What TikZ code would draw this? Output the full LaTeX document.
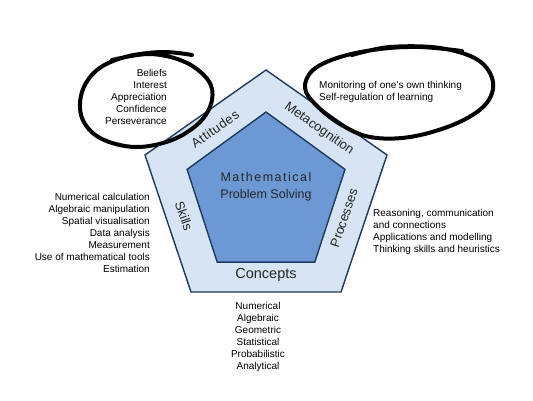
\documentclass[tikz,border=0pt]{standalone}
\usepackage{fontspec}
\setmainfont{Liberation Sans}
\definecolor{navy}{HTML}{1F3A5F}
\definecolor{outerblue}{HTML}{D6E4F4}
\definecolor{innerblue}{HTML}{6C99D4}
\definecolor{labelgray}{HTML}{262626}
\begin{document}
\begin{tikzpicture}[x=1pt,y=-1pt,
  pentout/.style={draw=navy, line width=1.4pt, fill=outerblue, line join=miter},
  pentin/.style={draw=navy, line width=1.4pt, fill=innerblue, line join=miter},
  listtext/.style={font=\fontsize{10}{12}\selectfont, inner sep=0pt, text=black},
  bandlabel/.style={font=\fontsize{13}{15}\selectfont, text=labelgray, inner sep=0pt},
  circled/.style={line width=4pt, line cap=round, line join=round, draw=black}
]
\useasboundingbox (0,0) rectangle (533,400);
% outer pentagon
\coordinate (O1) at (266,70);
\coordinate (O2) at (387,155);
\coordinate (O3) at (341,292);
\coordinate (O4) at (191,292);
\coordinate (O5) at (145,155);
\draw[pentout] (O1)--(O2)--(O3)--(O4)--(O5)--cycle;
% inner pentagon
\coordinate (I1) at (266,112);
\coordinate (I2) at (345,169.4);
\coordinate (I3) at (314.8,262.1);
\coordinate (I4) at (217.2,262.1);
\coordinate (I5) at (187.1,169.4);
\draw[pentin] (I1)--(I2)--(I3)--(I4)--(I5)--cycle;

\node[font=\fontsize{12.5}{17}\selectfont, text=labelgray, align=center, inner sep=0pt] (mps) at (266,187) {\addfontfeatures{LetterSpace=12}Mathematical\\Problem Solving};
\node[font=\fontsize{14.5}{16}\selectfont, text=labelgray, inner sep=0pt] (concepts) at (266,275) {Concepts};
\node[bandlabel, rotate=35] (att) at (215,129) {\addfontfeatures{LetterSpace=4}Attitudes};
\node[bandlabel, rotate=-35] (meta) at (319,129) {Metacognition};
\node[bandlabel, rotate=-71] (skills) at (184,216) {Skills};
\node[bandlabel, rotate=71] (proc) at (344,218) {Processes};

% lists
\node[listtext, align=right, anchor=north east] (attlist) at (167,69.3) {Beliefs\\Interest\\Appreciation\\Confidence\\Perseverance};
\node[listtext, align=left, anchor=north west] (metalist) at (319,81.3) {Monitoring of one’s own thinking\\Self-regulation of learning};
\node[listtext, align=right, anchor=north east] (skilllist) at (150,193.3) {Numerical calculation\\Algebraic manipulation\\Spatial visualisation\\Data analysis\\Measurement\\Use of mathematical tools\\Estimation};
\node[listtext, align=left, anchor=north west] (proclist) at (373,209.3) {Reasoning, communication\\and connections\\Applications and modelling\\Thinking skills and heuristics};
\node[listtext, align=center, anchor=north] (conlist) at (258,302.3) {Numerical\\Algebraic\\Geometric\\Statistical\\Probabilistic\\Analytical};

% hand-drawn ellipses
\draw[circled] plot[smooth, tension=0.6] coordinates {(112,60) (150,54) (185,62) (208,80) (212,100) (200,122) (172,140) (135,147) (100,138) (82,118) (82,92) (97,70) (125,57) (162,52) (192,55)};
\draw[circled] plot[smooth, tension=0.6] coordinates {(352,55) (390,47) (440,48) (478,60) (493,82) (485,105) (455,124) (410,137) (370,137) (340,124) (316,105) (305,88) (313,70) (340,57) (380,49) (420,47) (462,51)};
\end{tikzpicture}
\end{document}
